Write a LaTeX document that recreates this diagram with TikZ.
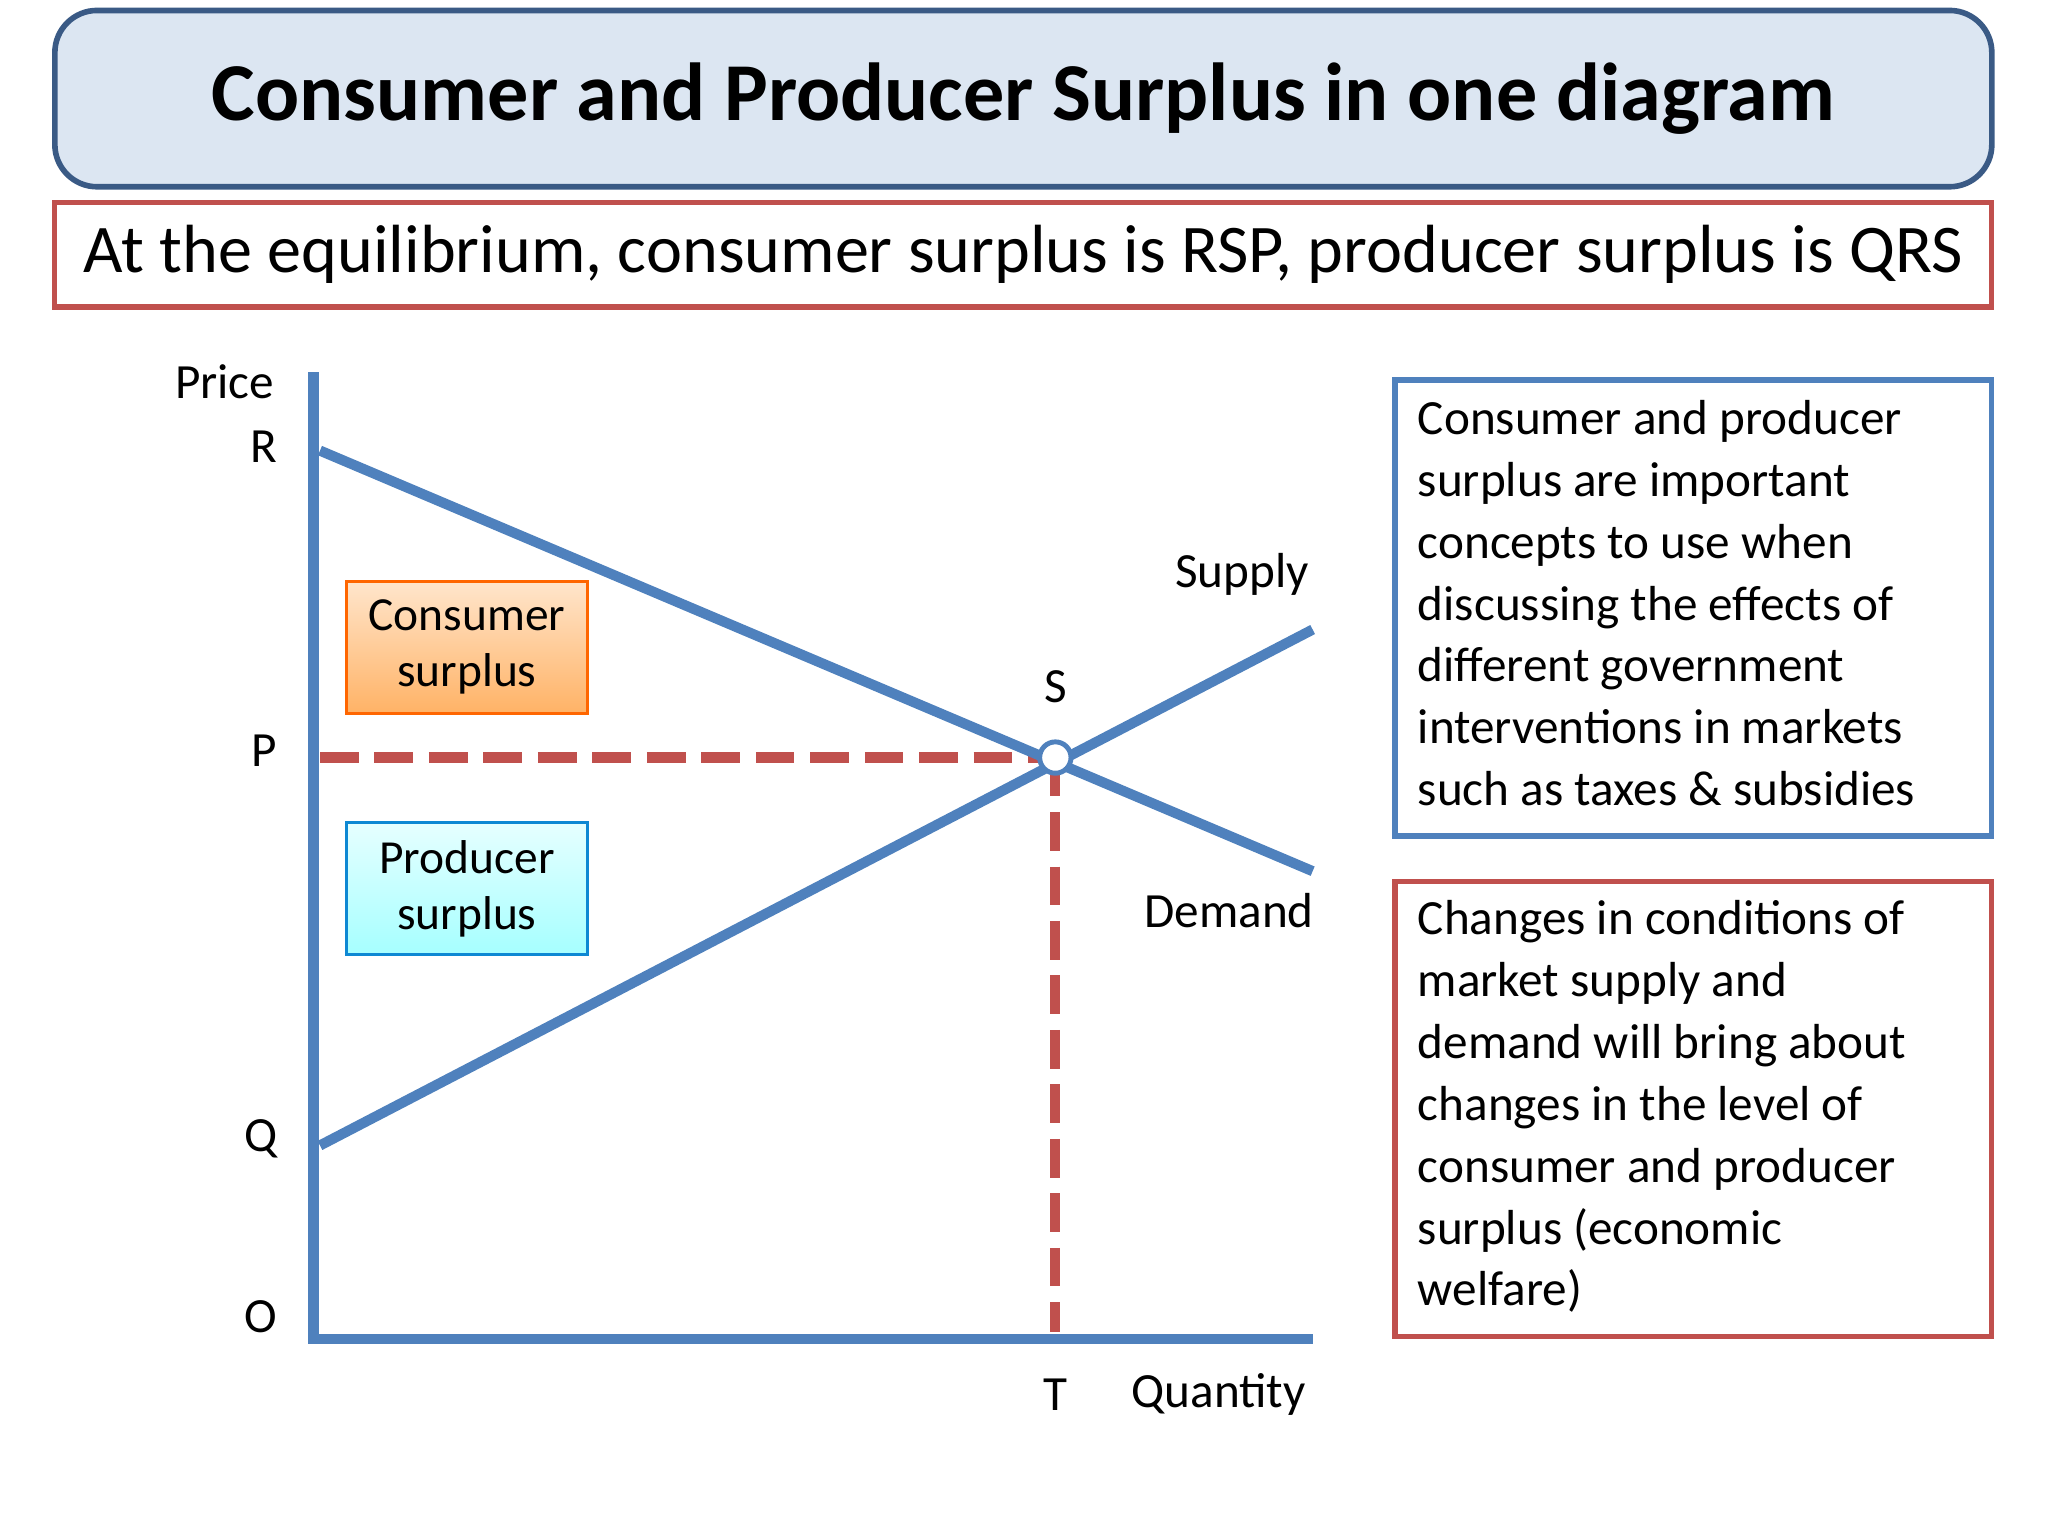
\documentclass[tikz,border=0pt]{standalone}
\usepackage{fontspec}
\setmainfont{Carlito}
\definecolor{axblue}{HTML}{4F81BD}
\definecolor{dred}{HTML}{C0504D}
\definecolor{titfill}{HTML}{DCE6F2}
\definecolor{titdraw}{HTML}{3A5A85}
\def\pxu{0.013061cm}
\begin{document}
\begin{tikzpicture}[x=\pxu,y=-\pxu,
  curve/.style={axblue,line width=2.9pt},
  dashline/.style={dred,line width=2.9pt,dash pattern=on 11pt off 4.5pt},
  lab/.style={font=\fontsize{14}{17}\selectfont,inner sep=0pt}]
\useasboundingbox (0,0) rectangle (1568,1176);
\node[draw=titdraw,fill=titfill,line width=1.6pt,rounded corners=12pt,minimum width=1483*\pxu,minimum height=135*\pxu] (title) at (783.5,75.5) {\fontsize{23.4}{27}\selectfont\bfseries Consumer and Producer Surplus in one diagram};
\node[draw=dred,line width=1.5pt,minimum width=1483*\pxu,minimum height=80*\pxu] (sub) at (783.5,195) {\fontsize{19.4}{22}\selectfont At the equilibrium, consumer surplus is RSP, producer surplus is QRS};
% axes
\coordinate (top) at (240,285);
\coordinate (org) at (240,1025);
\coordinate (xend) at (1005,1025);
\draw[curve] (top) -- (org) -- (xend);
\coordinate (R) at (245,345);
\coordinate (D) at (1005,667);
\coordinate (Qp) at (245,877);
\coordinate (Sp) at (1005,482);
\coordinate (S) at (808,580);
\coordinate (P) at (245,580);
\coordinate (T) at (808,1020);
\draw[dashline] (P) -- (S);
\draw[dashline] (S) -- (T);
\draw[curve] (R) -- (D);
\draw[curve] (Qp) -- (Sp);
\node[circle,draw=axblue,fill=white,line width=1.4pt,minimum size=24*\pxu,inner sep=0pt] (Sc) at (S) {};
% labels
\node[lab] (lprice) at (172,292) {Price};
\node[lab] (lR) at (202,342) {R};
\node[lab] (lP) at (202,575) {P};
\node[lab] (lQ) at (200,872) {Q};
\node[lab] (lO) at (200,1008) {O};
\node[lab] (lT) at (808,1068) {T};
\node[lab] (lqty) at (933,1068) {Quantity};
\node[lab] (lS) at (808,526) {S};
\node[lab] (lsup) at (951,440) {Supply};
\node[lab] (ldem) at (941,697) {Demand};
% surplus boxes
\node[draw=orange!80!red,line width=0.8pt,top color=orange!20,bottom color=orange!60,minimum width=185*\pxu,minimum height=101*\pxu,align=center,font=\fontsize{13.5}{16}\selectfont] (cs) at (357.5,495.5) {Consumer\\surplus};
\node[draw=cyan!70!blue,line width=0.8pt,top color=cyan!10,bottom color=cyan!35,minimum width=185*\pxu,minimum height=101*\pxu,align=center,font=\fontsize{13.5}{16}\selectfont] (ps) at (357.5,680.5) {Producer\\surplus};
% info boxes
\draw[axblue,line width=1.5pt] (1068,291) rectangle (1525,640);
\node[anchor=north west,align=left,inner sep=0pt,font=\fontsize{14}{17.6}\selectfont] (t1) at (1085,306) {Consumer and producer\\surplus are important\\concepts to use when\\discussing the effects of\\different government\\interventions in markets\\such as taxes \& subsidies};
\draw[dred,line width=1.5pt] (1068,675) rectangle (1525,1023);
\node[anchor=north west,align=left,inner sep=0pt,font=\fontsize{14}{17.6}\selectfont] (t2) at (1085,689) {Changes in conditions of\\market supply and\\demand will bring about\\changes in the level of\\consumer and producer\\surplus (economic\\welfare)};
\end{tikzpicture}
\end{document}
